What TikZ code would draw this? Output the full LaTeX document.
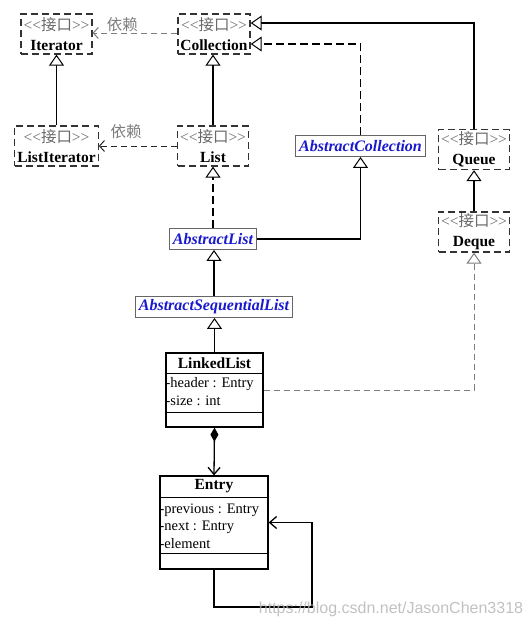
\documentclass[tikz,border=0pt]{standalone}
\usepackage{fontspec}
\usepackage{xcolor}
\usepackage{tikz}
\setmainfont{Liberation Serif}
\setsansfont{Liberation Sans}
\newfontfamily\cjk{Noto Sans CJK SC}
\usetikzlibrary{arrows.meta}

\definecolor{stereogray}{RGB}{105,105,105}
\definecolor{absblue}{RGB}{25,25,205}
\definecolor{depgray}{RGB}{125,125,125}

\newcommand{\stereo}{{\color{stereogray}<\kern0pt<{\cjk 接口}>\kern0pt>}}

\tikzset{
    iface/.style={draw=black!80, line width=1.3pt, dash pattern=on 7pt off 4pt,
        align=center, minimum height=40pt, inner xsep=2.5pt, inner ysep=0pt},
    abstr/.style={draw=black!60, line width=0.9pt, text=absblue,
        font=\fontsize{16}{18}\selectfont\bfseries\itshape,
        inner xsep=3.5pt, inner ysep=0pt, minimum height=21pt},
    umlbox/.style={draw, line width=1.3pt, inner sep=0pt},
    attrs/.style={anchor=north west, align=left, inner sep=0pt, font=\fontsize{14.5}{17.5}\selectfont},
    inherit/.style={-{Triangle[open, length=11pt, width=15pt, line width=1pt, fill=white]}, line width=1.3pt},
    depend/.style={-{Straight Barb[length=5pt, width=11pt]}, line width=1pt, dash pattern=on 6pt off 4pt}
}

\begin{document}
\begin{tikzpicture}[x=1pt, y=-1pt, font=\fontsize{15.5}{20}\selectfont]
        \useasboundingbox (0,0) rectangle (531,629);

        \node[iface] (iter) at (56.5,34) {\stereo\\\textbf{Iterator}};
        \node[iface] (coll) at (214,34) {\stereo\\\textbf{Collection}};
        \node[iface] (liter) at (56.5,146) {\stereo\\\textbf{ListIterator}};
        \node[iface] (list) at (213,146) {\stereo\\\textbf{List}};
        \node[iface] (queue) at (474,149.5) {\stereo\\\textbf{Queue}};
        \node[iface] (deque) at (474,232) {\stereo\\\textbf{Deque}};

        \node[abstr] (acoll) at (360.5,146) {AbstractCollection};
        \node[abstr] (alist) at (213,239) {AbstractList};
        \node[abstr] (aslist) at (214,307) {AbstractSequentialList};

        \node[umlbox, minimum width=97pt, minimum height=74pt] (linked) at (214.5,390) {};
        \node (linkedname) at ([yshift=-10.5pt]linked.north) {\textbf{LinkedList}};
        \draw[line width=1.3pt] ([yshift=-21pt]linked.north west) -- ([yshift=-21pt]linked.north east);
        \draw[line width=1.3pt] ([yshift=-60pt]linked.north west) -- ([yshift=-60pt]linked.north east);
        \node[attrs] (linkedattr) at ([yshift=-25pt]linked.north west) {-header : Entry\\-size : int};

        \node[umlbox, minimum width=108pt, minimum height=93pt] (entry) at (214,522.5) {};
        \node (entryname) at ([yshift=-11pt]entry.north) {\textbf{Entry}};
        \draw[line width=1.3pt] ([yshift=-22pt]entry.north west) -- ([yshift=-22pt]entry.north east);
        \draw[line width=1.3pt] ([yshift=-78pt]entry.north west) -- ([yshift=-78pt]entry.north east);
        \node[attrs] (entryattr) at ([yshift=-28pt]entry.north west) {-previous : Entry\\-next : Entry\\-element};

        \coordinate (loop) at (312,607);

        \draw[depend, depgray] ([yshift=1pt]coll.west) -- ([yshift=1pt]iter.east)
            node[pos=0.65, above, inner sep=0pt, yshift=0.5pt, text=depgray] {\cjk 依赖};
        \draw[depend, black!85] (list.west) -- (liter.east)
            node[pos=0.65, above, inner sep=0pt, yshift=7pt, text=depgray] {\cjk 依赖};

        \draw[inherit] (liter.north) -- (iter.south);
        \draw[inherit] (list.north) -- (list.north |- coll.south);
        \draw[inherit] (queue.north) |- ([yshift=11pt]coll.east);
        \draw[inherit, dash pattern=on 8pt off 4pt] (acoll.north) |- ([yshift=-10pt]coll.east);
        \draw[inherit, dash pattern=on 8pt off 4pt] (alist.north) -- (alist.north |- list.south);
        \draw[inherit] (alist.east) -| (acoll.south);
        \draw[inherit] (deque.north) -- (queue.south);
        \draw[inherit] (aslist.north) -- (aslist.north |- alist.south);
        \draw[inherit] (linked.north) -- (linked.north |- aslist.south);
        \draw[inherit, depgray, line width=1pt, dash pattern=on 6pt off 4pt] (linked.east) -| (deque.south);

        \draw[{Diamond[length=14pt, width=8pt]}-{Straight Barb[length=7pt, width=12pt]}, line width=1.3pt] (linked.south) -- (entry.north);
        \draw[-{Straight Barb[length=7pt, width=12pt]}, line width=1.3pt] (entry.south) |- (loop) |- (entry.east);

        \node[font=\sffamily\fontsize{16}{18}\selectfont, text=black!30, opacity=0.8] (mark) at (391,609) {https://blog.csdn.net/JasonChen3318};

    \end{tikzpicture}
\end{document}
